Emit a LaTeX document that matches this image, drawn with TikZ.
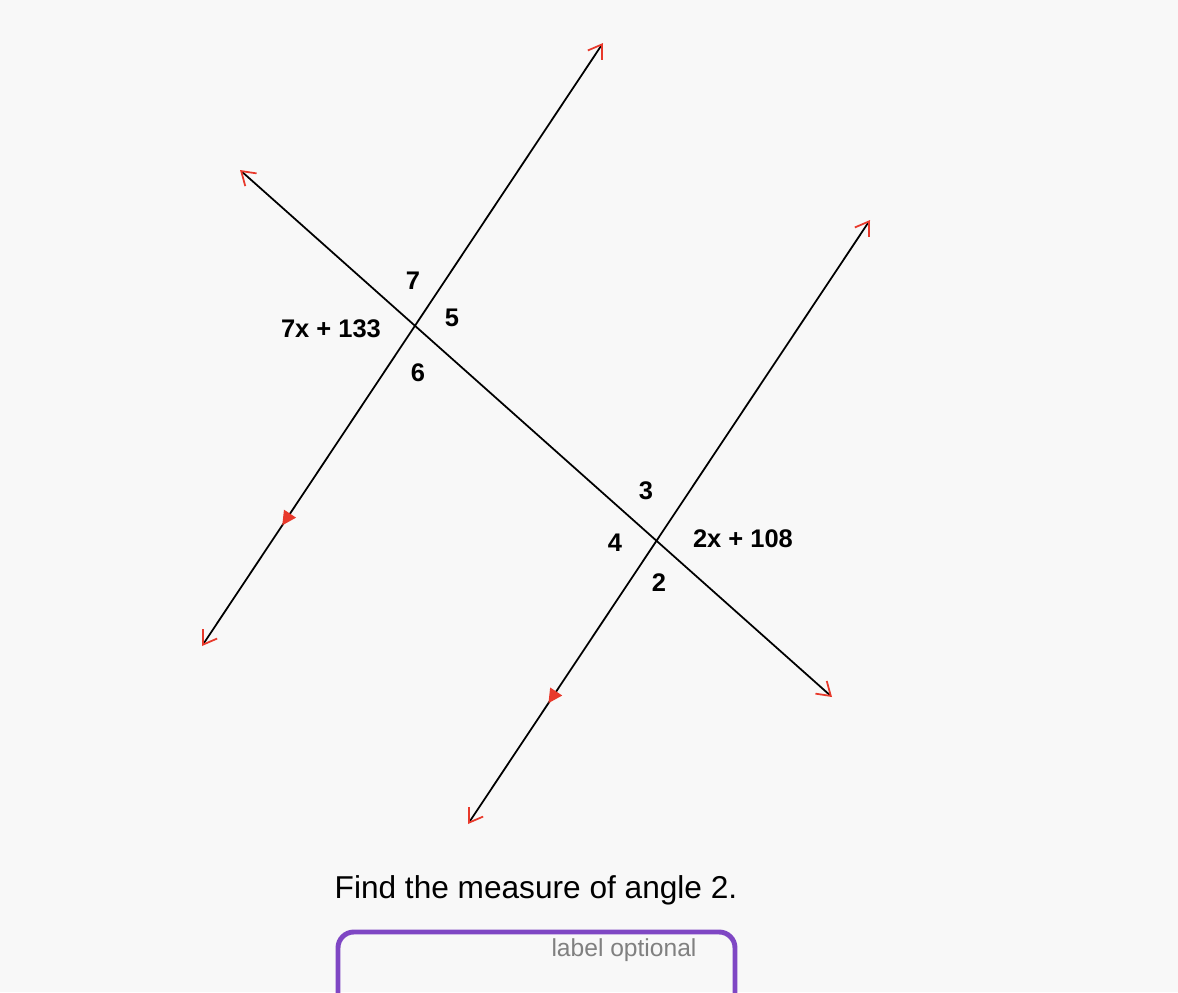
\documentclass[tikz,border=0pt]{standalone}
\usepackage{fontspec}
\setmainfont{Liberation Sans}
\usetikzlibrary{positioning,arrows.meta,decorations.markings}
\definecolor{bgcol}{HTML}{F8F8F8}
\definecolor{tipred}{HTML}{E8392B}
\definecolor{boxpurple}{HTML}{7F47C4}
\definecolor{hintgray}{HTML}{808080}
\begin{document}
\begin{tikzpicture}[x=0.02cm,y=-0.02cm,
line/.style ={line width=1pt,
  {Straight Barb[tipred,length=0.26cm,width=0.34cm,line width=1pt]}-{Straight Barb[tipred,length=0.26cm,width=0.34cm,line width=1pt]}},
parallel/.style ={line, postaction={decorate},
  decoration={markings, mark=at position 0.80 with {\arrow{Triangle[tipred,length=0.28cm,width=0.28cm]}}}},
anglbl/.style ={font=\fontsize{14.5}{17}\selectfont\bfseries, inner sep=1pt}
]
\useasboundingbox (0,0) rectangle (1178,992);
\fill[bgcol] (0,0) rectangle (1178,992);
% line ends
\coordinate (Ltop) at (603,43);
\coordinate (Lbot) at (202,646);
\coordinate (Rtop) at (870,220);
\coordinate (Rbot) at (468,824);
\coordinate (Ttop) at (240,170);
\coordinate (Tbot) at (832,697);
\draw[parallel] (Ltop) -- (Lbot);
\draw[parallel] (Rtop) -- (Rbot);
\draw[line] (Ttop) -- (Tbot);
% angles at the upper crossing
\node[anglbl] (a7) at (413,281) {7};
\node[anglbl] (a5) at (452,318) {5};
\node[anglbl] (a6) at (418,373) {6};
\node[anglbl] (e1) at (331,329) {7x + 133};
% angles at the lower crossing
\node[anglbl] (a3) at (646,491) {3};
\node[anglbl] (a4) at (615,543) {4};
\node[anglbl] (a2) at (659,583) {2};
\node[anglbl] (e2) at (743,539) {2x + 108};
% question
\node[font=\fontsize{18}{21}\selectfont] (q) at (536,890) {Find the measure of angle 2.};
\draw[boxpurple, line width=2.8pt, rounded corners=9pt] (338,1010) |- (735,932) -- (735,1010);
\node[font=\fontsize{14}{17}\selectfont, text=hintgray, anchor=base] (hint) at (624,956) {label optional};
\end{tikzpicture}
\end{document}
